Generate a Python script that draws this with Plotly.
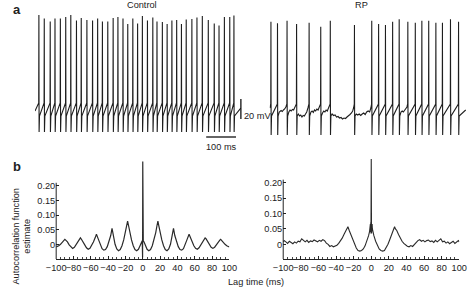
import plotly.graph_objects as go

FONT = "Liberation Sans, Arial, Helvetica, sans-serif"
INK = "#1e1e1e"

# ---------------- panel a: membrane potential traces ----------------
# Control: spike times (ms) and spike peak voltages (mV)
control_spike_t = [13, 31, 51, 67, 85, 103, 120, 139, 155, 174, 193, 210, 226, 244, 262, 278,
                   295, 311, 328, 344, 360, 377, 395, 409, 427, 443, 459, 475, 491, 507, 526,
                   543, 561, 581, 601, 617, 635, 653, 667]
control_spike_v = [35, 31.5, 28.5, 31.5, 31.5, 33, 35, 29.5, 32, 30, 29.5, 31.5, 28.5, 28.5, 32, 33,
                   31.5, 26, 31.5, 26.5, 34, 29.5, 32.5, 28.5, 28, 26, 29.5, 30, 26, 30.5, 31,
                   32.5, 34, 30, 26.5, 24.5, 33, 33, 34.5]
control_levels = {"start": -61, "pre": -53, "trough": -82, "post": -66, "end": -58}

# RP: spike times (ms) and spike peak voltages (mV)
rp_spike_t = [4, 26, 58, 90, 132, 171, 203, 284, 342, 365, 388, 412, 434, 463, 488, 510, 533,
              557, 579, 606, 633]
rp_spike_v = [28.3, 26.7, 29.3, 26, 27.3, 23.3, 29.3, 25, 29.3, 26, 25, 28.3, 30.7, 28.3, 27.3,
              29.3, 29.3, 27.3, 27.3, 30.7, 28.3]
rp_levels = {"start": -58, "pre": -54, "trough": -85, "post": -66, "end": -60}
# hand-read plateau points inside the longer RP inter-spike intervals (ms, mV)
rp_plateau_t = [32, 38, 42, 46, 50, 54,
                64, 68, 72, 76, 80, 84, 87,
                96, 100, 104, 108, 112, 116, 120, 124, 128,
                138, 142, 146, 150, 154, 158, 162, 166,
                177, 181, 185, 189, 193, 197, 200,
                209, 214, 219, 224, 229, 234, 239, 244, 249, 254, 259, 264, 269, 274, 278, 281,
                290, 295, 300, 305, 310, 315, 320, 325, 330, 335, 339,
                440, 444, 448, 452, 456, 460]
rp_plateau_v = [-62, -60.5, -61.5, -60, -59, -57,
                -62, -60, -61, -59.5, -60, -58, -56,
                -64, -66, -65, -67, -65.5, -66, -64, -62, -58,
                -62, -61, -62.5, -60, -61, -59, -60, -57,
                -63, -61, -62, -60, -61, -58, -56,
                -64, -65.5, -65, -67, -66.5, -68, -67.5, -69, -68, -68.5, -67, -66, -64.5, -63, -61, -58,
                -64, -65, -64, -65.5, -64, -63, -64.5, -62, -61, -62, -58,
                -62, -61, -62, -60, -59, -57]
control_duration = 690
rp_duration = 657

# ---------------- panel b: autocorrelation estimates (positive lags, mirrored) ----------------
ctrl_lag = [0, 0.2, 0.6, 1.5, 3, 5, 7, 9, 11, 13, 15, 16.5, 17.5, 18.5, 20, 22, 24, 26, 28, 30,
            32, 34, 35.5, 37, 39, 41, 43, 45, 47, 49, 51, 53.5, 55, 57, 59, 61, 63, 65, 67, 69,
            71, 72, 73, 75, 77, 79, 81, 83, 85, 87, 89, 90, 91, 93, 95, 97, 99, 100]
ctrl_acf = [0.283, -0.045, 0.012, 0.008, -0.004, -0.017, -0.022, -0.018, -0.005, 0.015, 0.04,
            0.065, 0.079, 0.064, 0.04, 0.015, -0.005, -0.018, -0.022, -0.016, 0.0, 0.025, 0.054,
            0.03, 0.01, -0.008, -0.018, -0.02, -0.015, -0.002, 0.015, 0.034, 0.022, 0.008,
            -0.005, -0.014, -0.017, -0.012, -0.002, 0.01, 0.018, 0.022, 0.019, 0.01, 0.0, -0.01,
            -0.014, -0.01, -0.002, 0.008, 0.014, 0.017, 0.013, 0.006, 0.0, -0.005, -0.008, -0.009]

rp_lag = [0, 0.3, 0.5, 0.7, 1.0, 1.3, 2, 3, 5, 7, 9, 11, 13, 15, 17, 19, 21, 23, 25, 26.5, 27.5,
          29, 31, 33, 35, 37, 39, 41, 43, 45, 47, 49, 51, 53, 55, 57, 59, 61, 63, 65, 67, 69, 71,
          73, 75, 77, 79, 81, 83, 85, 87, 89, 91, 93, 95, 97, 99, 100]
rp_acf = [0.277, 0.035, 0.072, 0.04, 0.066, 0.05, 0.04, 0.028, 0.01, -0.005, -0.015, -0.02,
          -0.022, -0.02, -0.012, 0.0, 0.015, 0.03, 0.045, 0.057, 0.05, 0.045, 0.032, 0.02, 0.01,
          0.003, -0.003, -0.006, -0.008, -0.004, -0.007, 0.0, 0.004, 0.012, 0.015, 0.01, 0.013,
          0.008, 0.012, 0.014, 0.009, 0.011, 0.006, 0.013, 0.008, 0.012, 0.018, 0.008, 0.01,
          0.004, 0.008, 0.002, 0.006, 0.01, 0.003, 0.008, 0.012, 0.008]

acf_tickvals = [0, 0.05, 0.10, 0.15, 0.20]
acf_ticktext = ["0", "0.05", "0.10", "0.15", "0.20"]
lag_tickvals = [-100, -80, -60, -40, -20, 0, 20, 40, 60, 80, 100]


def build_trace(spike_t, spike_v, levels, duration, extra_t=(), extra_v=()):
    pts = [(0, levels["start"])]
    for t, v in zip(spike_t, spike_v):
        pts += [(t - 0.6, levels["pre"]), (t, v), (t + 0.7, levels["trough"]),
                (t + 2.0, levels["post"])]
    pts += list(zip(extra_t, extra_v))
    pts.append((duration, levels["end"]))
    pts.sort(key=lambda p: p[0])
    return [p[0] for p in pts], [p[1] for p in pts]


def mirror(lag, val):
    xs = [-l for l in reversed(lag[1:])] + list(lag)
    ys = list(reversed(val[1:])) + list(val)
    return xs, ys


fig = go.Figure()

cx, cy = build_trace(control_spike_t, control_spike_v, control_levels, control_duration)
rx, ry = build_trace(rp_spike_t, rp_spike_v, rp_levels, rp_duration, rp_plateau_t, rp_plateau_v)
fig.add_trace(go.Scatter(x=cx, y=cy, mode="lines", line=dict(color=INK, width=1.1),
                         xaxis="x3", yaxis="y3", hoverinfo="skip"))
fig.add_trace(go.Scatter(x=rx, y=ry, mode="lines", line=dict(color=INK, width=1.1),
                         xaxis="x4", yaxis="y4", hoverinfo="skip"))

ax_, ay_ = mirror(ctrl_lag, ctrl_acf)
bx_, by_ = mirror(rp_lag, rp_acf)
fig.add_trace(go.Scatter(x=ax_, y=ay_, mode="lines", line=dict(color="#2a2a2a", width=1.2),
                         xaxis="x", yaxis="y", hoverinfo="skip"))
fig.add_trace(go.Scatter(x=bx_, y=by_, mode="lines", line=dict(color="#2a2a2a", width=1.1),
                         xaxis="x2", yaxis="y2", hoverinfo="skip"))

W, H = 474, 288


def px(x):
    return x / W


def py(y):
    return 1 - y / H


FS = 9.2
tickfont = dict(family=FONT, size=FS, color="#222")
common_x = dict(range=[-100, 100], tickvals=lag_tickvals, tickangle=0, ticks="inside", ticklen=3,
                tickcolor="#222", showline=True, linecolor="#222", linewidth=1,
                showgrid=False, zeroline=False, tickfont=tickfont,
                minor=dict(dtick=5, ticks="inside", ticklen=2, tickcolor="#444"))
common_y = dict(tickvals=acf_tickvals, ticktext=acf_ticktext, ticks="inside", ticklen=3,
                tickcolor="#222", showline=False, showgrid=False, zeroline=False,
                tickfont=tickfont)

fig.update_layout(
    width=W, height=H, margin=dict(l=0, r=0, t=0, b=0),
    paper_bgcolor="white", plot_bgcolor="white", showlegend=False,
    font=dict(family=FONT, color="#222"),
    xaxis=dict(domain=[px(48), px(228)], anchor="y", **common_x),
    yaxis=dict(domain=[py(259), py(155)], anchor="x", range=[-0.0502, 0.3048], **common_y),
    xaxis2=dict(domain=[px(284), px(467)], anchor="y2", **common_x),
    yaxis2=dict(domain=[py(259), py(155)], anchor="x2", range=[-0.0477, 0.290], **common_y),
    xaxis3=dict(domain=[px(26), px(240)], anchor="y3", range=[0, 690.3], visible=False),
    yaxis3=dict(domain=[py(140), 1], anchor="x3", range=[-90, 50], visible=False),
    xaxis4=dict(domain=[px(270), 1], anchor="y4", range=[0, 658], visible=False),
    yaxis4=dict(domain=[py(140), 1], anchor="x4", range=[-90, 50], visible=False),
)

shapes = [
    # y axis lines of the autocorrelation panels
    dict(type="line", xref="x domain", yref="y", x0=0, x1=0, y0=-0.0502, y1=0.21,
         line=dict(color="#222", width=1)),
    dict(type="line", xref="x2 domain", yref="y2", x0=0, x1=0, y0=-0.0477, y1=0.21,
         line=dict(color="#222", width=1)),
    # scale bars
    dict(type="line", xref="paper", yref="y3", x0=px(240), x1=px(240), y0=-69, y1=-49,
         line=dict(color="#111", width=1.3)),
    dict(type="line", xref="x3", yref="y3", x0=574, x1=674, y0=-87, y1=-87,
         line=dict(color="#111", width=1.3)),
]
fig.update_layout(shapes=shapes)

ann = [
    dict(text="<b>a</b>", x=px(1), y=py(0), xanchor="left", yanchor="top", font=dict(size=13)),
    dict(text="<b>b</b>", x=px(1), y=py(157), xanchor="left", yanchor="top", font=dict(size=13)),
    dict(text="Control", x=px(137), y=py(5), xanchor="center", yanchor="middle",
         font=dict(size=FS)),
    dict(text="RP", x=px(365.5), y=py(5), xanchor="center", yanchor="middle",
         font=dict(size=FS)),
    dict(text="20 mV", x=px(241.5), y=py(116), xanchor="left", yanchor="middle",
         font=dict(size=FS)),
    dict(text="100 ms", x=px(220), y=py(147), xanchor="center", yanchor="middle",
         font=dict(size=FS)),
    dict(text="Autocorrelation function<br>estimate", x=px(12), y=py(236), textangle=-90,
         xanchor="center", yanchor="middle", font=dict(size=FS)),
    dict(text="Lag time (ms)", x=px(256), y=py(282), xanchor="center", yanchor="middle",
         font=dict(size=FS)),
]
for a in ann:
    a.update(xref="paper", yref="paper", showarrow=False)
    a["font"].update(family=FONT, color="#222")
fig.update_layout(annotations=ann)

fig.write_html("out.html")
